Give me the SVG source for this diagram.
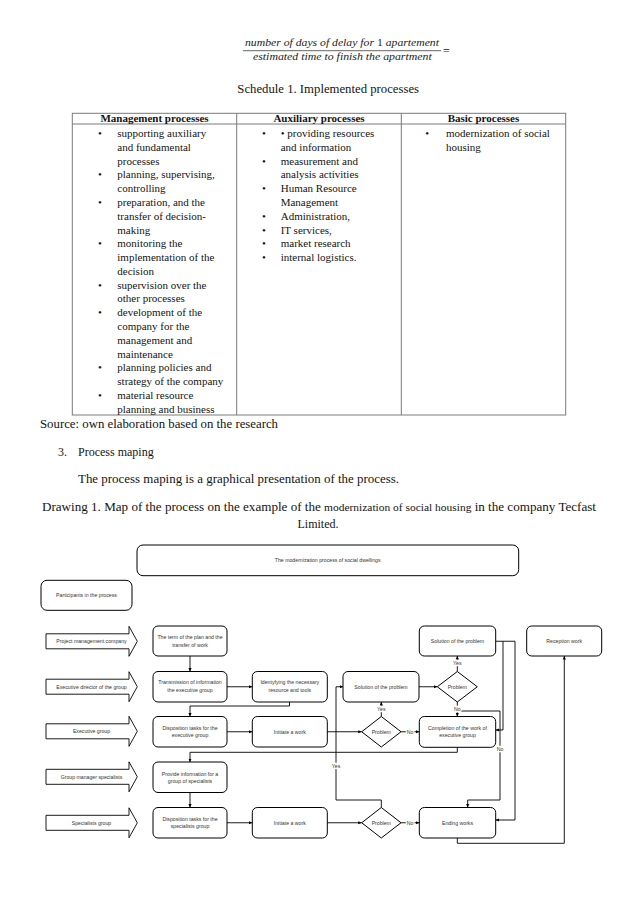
<svg xmlns="http://www.w3.org/2000/svg" width="638" height="903" viewBox="0 0 638 903">
<style>
.doc{font-family:"Liberation Serif","Times New Roman",serif;fill:#141414}
.t12{font-size:12px}
.tb{font-size:11px}
.hd{font-size:11px;font-weight:bold;text-anchor:middle}
.fm{font-family:"Liberation Serif",serif;font-style:italic;font-size:9.5px;fill:#222}
.tl{stroke:#7a7a7a;stroke-width:1;fill:none}
.fc{font-family:"Liberation Sans",Arial,sans-serif;font-size:5.2px;fill:#333;text-anchor:middle}
.box{fill:#fff;stroke:#000;stroke-width:1}
.lane{fill:#fff;stroke:#000;stroke-width:0.9}
.conn path{fill:none;stroke:#000;stroke-width:0.9;marker-end:url(#ah)}
.lbl{paint-order:stroke;stroke:#fff;stroke-width:2.5}
</style>
<defs>
<marker id="ah" markerUnits="userSpaceOnUse" markerWidth="4" markerHeight="4" refX="3.5" refY="2" orient="auto">
<path d="M0,0.4 L3.6,2 L0,3.6 Z" fill="#000"/>
</marker>
</defs>
<rect width="638" height="903" fill="#fff"/>

<!-- formula -->
<g id="formula">
<text class="fm" x="245" y="45.5" textLength="194" lengthAdjust="spacingAndGlyphs">number of days of delay for <tspan font-style="normal">1</tspan> apartement</text>
<line x1="243" y1="50.7" x2="441" y2="50.7" stroke="#222" stroke-width="0.7"/>
<text class="fm" x="253" y="60" textLength="178.7" lengthAdjust="spacingAndGlyphs">estimated time to finish the apartment</text>
<text class="doc t12" x="443" y="55">=</text>
</g>

<text class="doc t12" x="237.3" y="93" textLength="181.7" lengthAdjust="spacingAndGlyphs">Schedule 1. Implemented processes</text>

<!-- table -->
<g id="table">
<rect class="tl" x="72.3" y="113.3" width="493.4" height="301.7"/>
<line class="tl" x1="72.3" y1="124" x2="565.7" y2="124"/>
<line class="tl" x1="236.7" y1="113.3" x2="236.7" y2="415"/>
<line class="tl" x1="401.3" y1="113.3" x2="401.3" y2="415"/>
<text class="doc hd" x="154.5" y="122">Management processes</text>
<text class="doc hd" x="319" y="122">Auxiliary processes</text>
<text class="doc hd" x="483.5" y="122">Basic processes</text>
<g class="doc tb">
<text x="98" y="137">•</text><text x="117.3" y="137">supporting auxiliary</text>
<text x="117.3" y="150.8">and fundamental</text>
<text x="117.3" y="164.6">processes</text>
<text x="98" y="178.3">•</text><text x="117.3" y="178.3">planning, supervising,</text>
<text x="117.3" y="192.1">controlling</text>
<text x="98" y="205.9">•</text><text x="117.3" y="205.9">preparation, and the</text>
<text x="117.3" y="219.7">transfer of decision-</text>
<text x="117.3" y="233.5">making</text>
<text x="98" y="247.2">•</text><text x="117.3" y="247.2">monitoring the</text>
<text x="117.3" y="261">implementation of the</text>
<text x="117.3" y="274.8">decision</text>
<text x="98" y="288.6">•</text><text x="117.3" y="288.6">supervision over the</text>
<text x="117.3" y="302.4">other processes</text>
<text x="98" y="316.1">•</text><text x="117.3" y="316.1">development of the</text>
<text x="117.3" y="329.9">company for the</text>
<text x="117.3" y="343.7">management and</text>
<text x="117.3" y="357.5">maintenance</text>
<text x="98" y="371.3">•</text><text x="117.3" y="371.3">planning policies and</text>
<text x="117.3" y="385">strategy of the company</text>
<text x="98" y="398.8">•</text><text x="117.3" y="398.8">material resource</text>
<text x="117.3" y="412.6">planning and business</text>

<text x="262" y="137">•</text><text x="280.7" y="137">• providing resources</text>
<text x="280.7" y="150.8">and information</text>
<text x="262" y="164.6">•</text><text x="280.7" y="164.6">measurement and</text>
<text x="280.7" y="178.3">analysis activities</text>
<text x="262" y="192.1">•</text><text x="280.7" y="192.1">Human Resource</text>
<text x="280.7" y="205.9">Management</text>
<text x="262" y="219.7">•</text><text x="280.7" y="219.7">Administration,</text>
<text x="262" y="233.5">•</text><text x="280.7" y="233.5">IT services,</text>
<text x="262" y="247.2">•</text><text x="280.7" y="247.2">market research</text>
<text x="262" y="261">•</text><text x="280.7" y="261">internal logistics.</text>

<text x="425.3" y="137">•</text><text x="446" y="137">modernization of social</text>
<text x="446" y="150.8">housing</text>
</g>
</g>

<g class="doc t12">
<text x="40" y="428" textLength="238" lengthAdjust="spacingAndGlyphs">Source: own elaboration based on the research</text>
<text x="58" y="456">3.</text>
<text x="78" y="456">Process maping</text>
<text x="78" y="483" textLength="321" lengthAdjust="spacingAndGlyphs">The process maping is a graphical presentation of the process.</text>
<text x="42" y="511" textLength="554" lengthAdjust="spacingAndGlyphs">Drawing 1. Map of the process on the example of the <tspan font-size="10.5">modernization of social housing</tspan> in the company Tecfast</text>
<text x="318" y="528" text-anchor="middle">Limited.</text>
</g>

<!-- flowchart -->
<g id="title-box"><rect class="box" x="137" y="545" width="381.7" height="30.7" rx="6"/><text class="fc" x="327.7" y="561.8">The modernization process of social dwellings</text></g>
<g id="participants"><rect class="box" x="41" y="580.3" width="91" height="30" rx="6"/><text class="fc" x="86.5" y="597">Participants in the process</text></g>

<g id="lane-project"><path class="lane" d="M46,633.8 H129 V626.3 L137.3,641.3 L129,656.3 V648.8 H46 Z"/><text class="fc" x="91.5" y="643.1">Project management company</text></g>
<g id="lane-director"><path class="lane" d="M46,679.2 H129 V671.7 L137.3,686.7 L129,701.7 V694.2 H46 Z"/><text class="fc" x="91.5" y="688.5">Executive director of the group</text></g>
<g id="lane-exec"><path class="lane" d="M46,723.8 H129 V716.3 L137.3,731.3 L129,746.3 V738.8 H46 Z"/><text class="fc" x="91.5" y="733.1">Executive group</text></g>
<g id="lane-manager"><path class="lane" d="M46,769.3 H129 V761.8 L137.3,776.8 L129,791.8 V784.3 H46 Z"/><text class="fc" x="91.5" y="778.6">Group manager specialists</text></g>
<g id="lane-specialists"><path class="lane" d="M46,815.3 H129 V807.8 L137.3,822.8 L129,837.8 V830.3 H46 Z"/><text class="fc" x="91.5" y="824.6">Specialists group</text></g>

<g id="n-term"><rect class="box" x="153" y="626" width="74" height="30" rx="5"/><text class="fc" x="190" y="639.2">The term of the plan and the</text><text class="fc" x="190" y="646.8">transfer of work</text></g>
<g id="n-transmission"><rect class="box" x="153" y="671.5" width="74" height="30.5" rx="5"/><text class="fc" x="190" y="684.2">Transmission of information</text><text class="fc" x="190" y="691.8">the executive group</text></g>
<g id="n-identify"><rect class="box" x="252.3" y="671.5" width="75" height="30.5" rx="5"/><text class="fc" x="289.8" y="684.2">Identyfying the necessary</text><text class="fc" x="289.8" y="691.8">resource and tools</text></g>
<g id="n-disp-exec"><rect class="box" x="153" y="716.5" width="74" height="30.5" rx="5"/><text class="fc" x="190" y="729.5">Disposition tasks for the</text><text class="fc" x="190" y="737">executive group</text></g>
<g id="n-initiate1"><rect class="box" x="252.3" y="716.5" width="75" height="30.5" rx="5"/><text class="fc" x="289.8" y="733.6">Initiate a work</text></g>
<g id="n-provide"><rect class="box" x="153" y="762" width="74" height="30.5" rx="5"/><text class="fc" x="190" y="775.5">Provide information for a</text><text class="fc" x="190" y="783">group of specialists</text></g>
<g id="n-disp-spec"><rect class="box" x="153" y="807.5" width="74" height="30.5" rx="5"/><text class="fc" x="190" y="820.5">Disposition tasks for the</text><text class="fc" x="190" y="828">specialists group</text></g>
<g id="n-initiate2"><rect class="box" x="252.3" y="807.5" width="75" height="30.5" rx="5"/><text class="fc" x="289.8" y="824.6">Initiate a work</text></g>
<g id="n-solution2"><rect class="box" x="343" y="671.5" width="76" height="30.5" rx="5"/><text class="fc" x="381" y="688.6">Solution of the problem</text></g>
<g id="n-solution1"><rect class="box" x="419.3" y="626" width="76.4" height="30" rx="5"/><text class="fc" x="457.5" y="643">Solution of the problem</text></g>
<g id="n-completion"><rect class="box" x="419.3" y="716.5" width="76.4" height="30.8" rx="5"/><text class="fc" x="457.5" y="729.5">Completion of the work of</text><text class="fc" x="457.5" y="736.9">executive group</text></g>
<g id="n-ending"><rect class="box" x="419.3" y="807.5" width="76.4" height="30.5" rx="5"/><text class="fc" x="457.5" y="824.6">Ending works</text></g>
<g id="n-reception"><rect class="box" x="526.7" y="626" width="75" height="30" rx="5"/><text class="fc" x="564.2" y="643">Reception work</text></g>
<g id="d-problem1"><polygon class="box" points="381.3,716.5 401,731.75 381.3,747 361.7,731.75"/><text class="fc" x="381.3" y="733.6">Problem</text></g>
<g id="d-problem2"><polygon class="box" points="457.3,671.5 477.3,686.75 457.3,702 437.3,686.75"/><text class="fc" x="457.3" y="688.6">Problem</text></g>
<g id="d-problem3"><polygon class="box" points="381.3,807.5 401,822.75 381.3,838 361.7,822.75"/><text class="fc" x="381.3" y="824.6">Problem</text></g>

<g id="connectors" class="conn">
<path d="M190,656 V671.5"/>
<path d="M227,686.75 H252.3"/>
<path d="M289.5,702 V706 H190 V716.5"/>
<path d="M227,731.75 H252.3"/>
<path d="M327.3,731.75 H361.7"/>
<path d="M401,731.75 H419.3"/>
<path d="M381.3,716.5 V702"/>
<path d="M419,686.75 H437.3"/>
<path d="M457.3,671.5 V656"/>
<path d="M457.3,702 V716.5"/>
<path d="M457.3,711 H500 V800 H467.7 V807.5"/>
<path d="M495.7,641.25 H515 V820 H495.7"/>
<path d="M503,641.25 V730 H495.7"/>
<path d="M457.3,838 V843.3 H564.3 V656"/>
<path d="M457.3,747.3 V752.3 H190 V762"/>
<path d="M190,792.5 V807.5"/>
<path d="M227,822.75 H252.3"/>
<path d="M327.3,822.75 H361.7"/>
<path d="M401,822.75 H419.3"/>
<path d="M381.3,807.5 V800 H336 V686.75 H343"/>
</g>
<g id="labels" class="fc">
<text class="lbl" x="457.3" y="665">Yes</text>
<text class="lbl" x="457.3" y="710.8">No</text>
<text class="lbl" x="381.3" y="710.8">Yes</text>
<text class="lbl" x="410" y="733.6">No</text>
<text class="lbl" x="500" y="750.8">No</text>
<text class="lbl" x="336" y="767.8">Yes</text>
<text class="lbl" x="410" y="824.6">No</text>
</g>
</svg>
